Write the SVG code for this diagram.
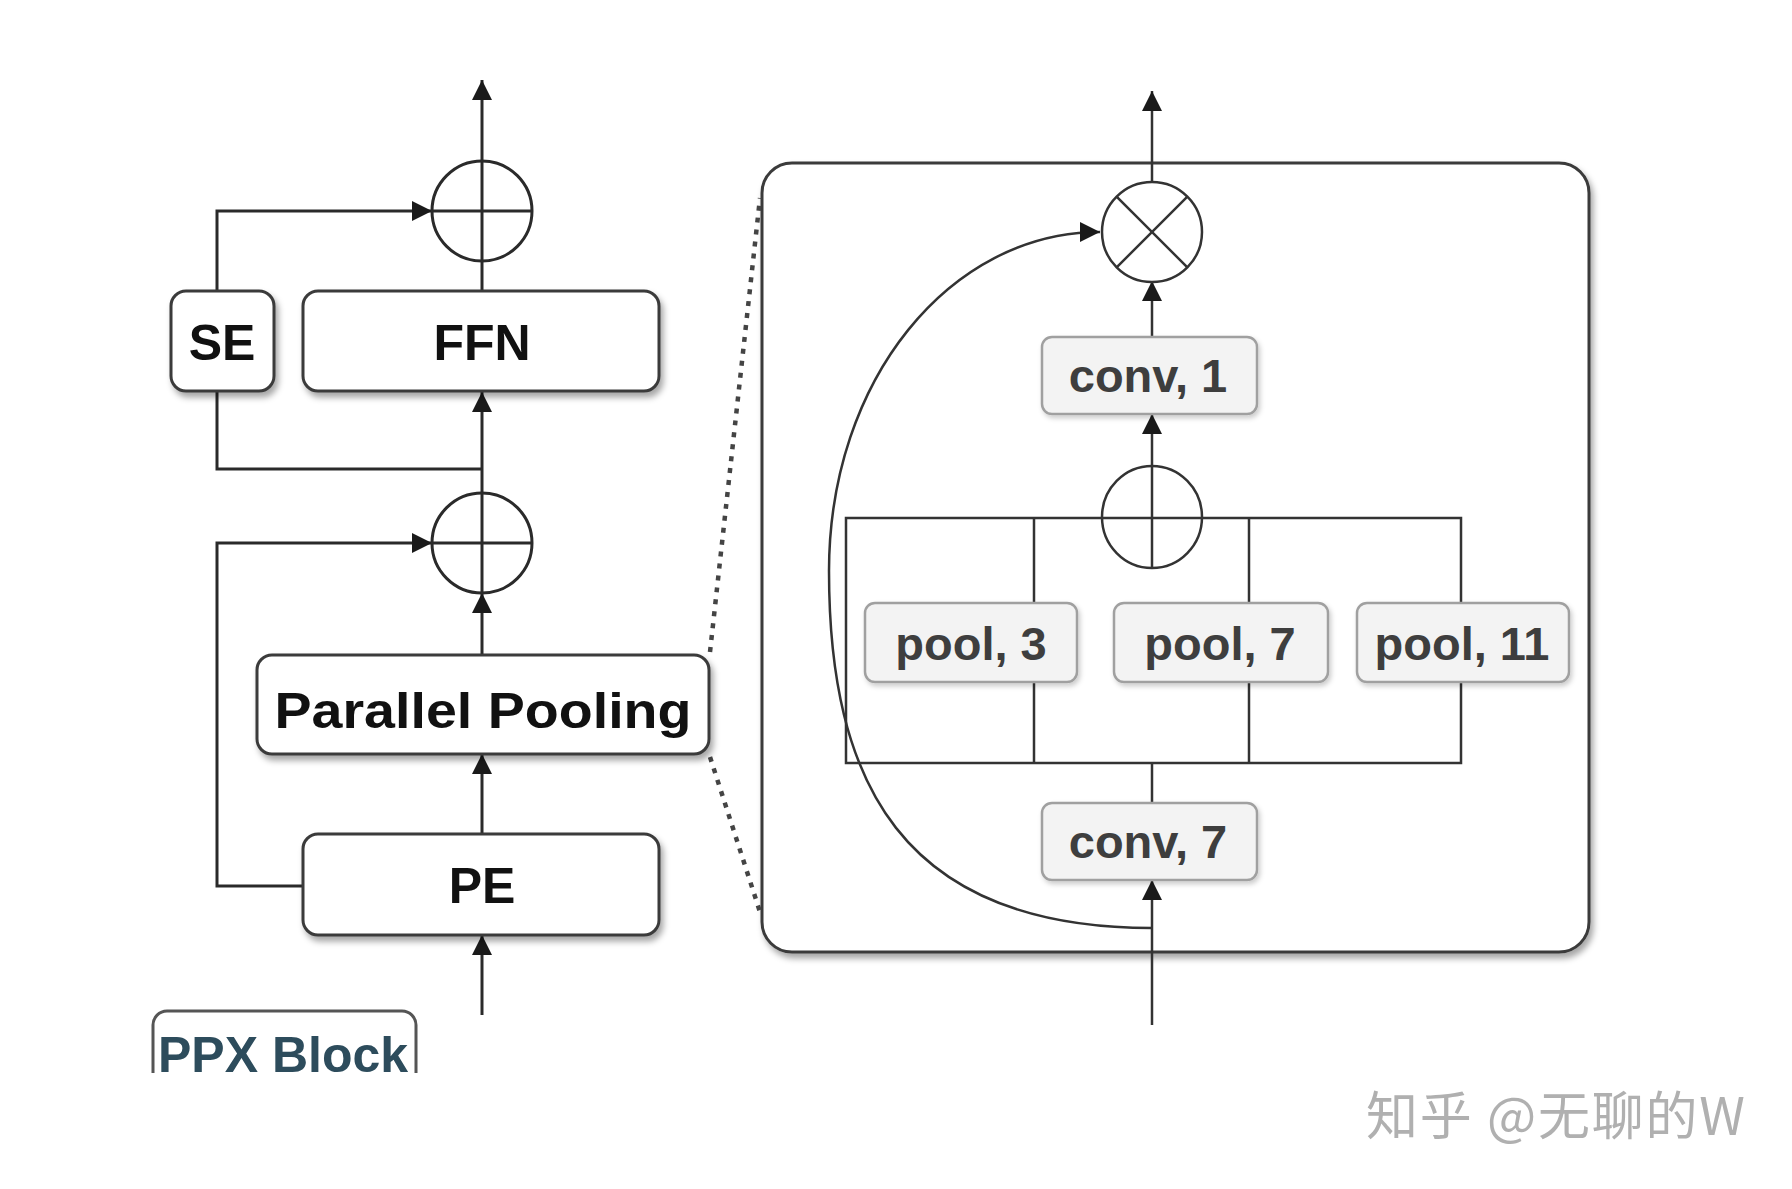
<svg xmlns="http://www.w3.org/2000/svg" width="1792" height="1189" viewBox="0 0 1792 1189">
  <defs>
    <marker id="arr" viewBox="0 0 10 10" refX="10" refY="5" markerWidth="27" markerHeight="20" markerUnits="userSpaceOnUse" orient="auto">
      <path d="M0,0 L10,5 L0,10 z" fill="#1a1a1a"/>
    </marker>
    <filter id="sh" x="-10%" y="-10%" width="130%" height="140%">
      <feDropShadow dx="3" dy="5" stdDeviation="3" flood-color="#000" flood-opacity="0.35"/>
    </filter>
    <filter id="shl" x="-10%" y="-10%" width="130%" height="140%">
      <feDropShadow dx="2" dy="3" stdDeviation="2.5" flood-color="#000" flood-opacity="0.2"/>
    </filter>
    <clipPath id="cut"><rect x="0" y="0" width="1792" height="1073"/></clipPath>
    <style>
      .box { fill: #ffffff; stroke: #3a3a3a; stroke-width: 3; }
      .gbox { fill: #f3f3f3; stroke: #a0a0a0; stroke-width: 2.5; }
      .ln { fill: none; stroke: #2a2a2a; stroke-width: 3; }
      .thin { fill: none; stroke: #333333; stroke-width: 2.5; }
      .dot { fill: none; stroke: #444444; stroke-width: 4.5; stroke-dasharray: 5 7; }
      .t { font-family: "Liberation Sans", Arial, sans-serif; font-weight: bold; text-anchor: middle; fill: #111111; font-size: 50px; }
      .g { font-family: "Liberation Sans", Arial, sans-serif; font-weight: bold; text-anchor: middle; fill: #3e3e3e; font-size: 47px; }
    </style>
  </defs>
  <rect width="1792" height="1189" fill="#ffffff"/>

  <!-- big panel -->
  <g id="panel">
    <rect x="762" y="163" width="827" height="789" rx="30" class="box" filter="url(#sh)"/>
  </g>

  <g id="connectors">
    <!-- left column -->
    <line x1="482" y1="261" x2="482" y2="80" class="ln" marker-end="url(#arr)"/>
    <line x1="482" y1="291" x2="482" y2="261" class="ln"/>
    <polyline points="217,291 217,211 432,211" class="ln" marker-end="url(#arr)"/>
    <polyline points="217,391 217,469 482,469" class="ln"/>
    <line x1="482" y1="493" x2="482" y2="392" class="ln" marker-end="url(#arr)"/>
    <line x1="482" y1="655" x2="482" y2="593" class="ln" marker-end="url(#arr)"/>
    <line x1="482" y1="834" x2="482" y2="754" class="ln" marker-end="url(#arr)"/>
    <line x1="482" y1="1015" x2="482" y2="935" class="ln" marker-end="url(#arr)"/>
    <polyline points="303,886 217,886 217,543 432,543" class="ln" marker-end="url(#arr)"/>
    <!-- dotted zoom lines -->
    <line x1="710" y1="652" x2="760" y2="198" class="dot"/>
    <line x1="710" y1="757" x2="760" y2="912" class="dot"/>
    <!-- right panel -->
    <line x1="1152" y1="183" x2="1152" y2="91" class="thin" marker-end="url(#arr)"/>
    <line x1="1152" y1="337" x2="1152" y2="281" class="thin" marker-end="url(#arr)"/>
    <line x1="1152" y1="467" x2="1152" y2="414" class="thin" marker-end="url(#arr)"/>
    <rect x="846" y="518" width="615" height="245" class="thin"/>
    <line x1="1034" y1="518" x2="1034" y2="763" class="thin"/>
    <line x1="1249" y1="518" x2="1249" y2="763" class="thin"/>
    <line x1="1152" y1="763" x2="1152" y2="803" class="thin"/>
    <line x1="1152" y1="1025" x2="1152" y2="880" class="thin" marker-end="url(#arr)"/>
    <path d="M1152,928 C900,928 829,780 829,571 C829,380 950,232 1100,232" class="thin" marker-end="url(#arr)"/>
  </g>

  <!-- left column nodes -->
  <g id="add-top">
    <circle cx="482" cy="211" r="50" class="ln"/>
    <line x1="432" y1="211" x2="532" y2="211" class="ln"/>
  </g>
  <g id="add-mid">
    <circle cx="482" cy="543" r="50" class="ln"/>
    <line x1="432" y1="543" x2="532" y2="543" class="ln"/>
    <line x1="482" y1="493" x2="482" y2="593" class="ln"/>
  </g>
  <g id="se">
    <rect x="171" y="291" width="103" height="100" rx="15" class="box" filter="url(#sh)"/>
    <text x="222" y="360" class="t">SE</text>
  </g>
  <g id="ffn">
    <rect x="303" y="291" width="356" height="100" rx="15" class="box" filter="url(#sh)"/>
    <text x="482" y="360" class="t">FFN</text>
  </g>
  <g id="parallel-pooling">
    <rect x="257" y="655" width="452" height="99" rx="15" class="box" filter="url(#sh)"/>
    <text x="483" y="728" class="t" font-size="52" textLength="417" lengthAdjust="spacingAndGlyphs">Parallel Pooling</text>
  </g>
  <g id="pe">
    <rect x="303" y="834" width="356" height="101" rx="15" class="box" filter="url(#sh)"/>
    <text x="482" y="903" class="t">PE</text>
  </g>
  <g id="ppx-block" clip-path="url(#cut)">
    <rect x="153" y="1011" width="263" height="90" rx="14" fill="#ffffff" stroke="#555555" stroke-width="3"/>
    <text x="283" y="1072" class="t" font-size="49" style="fill:#2d4c5c">PPX Block</text>
  </g>

  <!-- right panel nodes -->
  <g id="mul">
    <circle cx="1152" cy="232" r="50" fill="#ffffff" class="thin"/>
    <line x1="1116.6" y1="196.6" x2="1187.4" y2="267.4" class="thin"/>
    <line x1="1187.4" y1="196.6" x2="1116.6" y2="267.4" class="thin"/>
  </g>
  <g id="conv1">
    <rect x="1042" y="337" width="215" height="77" rx="10" class="gbox" filter="url(#shl)"/>
    <text x="1148" y="392" class="g">conv, 1</text>
  </g>
  <g id="add-pool">
    <ellipse cx="1152" cy="517" rx="50" ry="51" class="thin"/>
    <line x1="1152" y1="466" x2="1152" y2="568" class="thin"/>
  </g>
  <g id="pool3">
    <rect x="865" y="603" width="212" height="79" rx="10" class="gbox" filter="url(#shl)"/>
    <text x="971" y="660" class="g">pool, 3</text>
  </g>
  <g id="pool7">
    <rect x="1114" y="603" width="214" height="79" rx="10" class="gbox" filter="url(#shl)"/>
    <text x="1220" y="660" class="g">pool, 7</text>
  </g>
  <g id="pool11">
    <rect x="1357" y="603" width="212" height="79" rx="10" class="gbox" filter="url(#shl)"/>
    <text x="1462" y="660" class="g">pool, 11</text>
  </g>
  <g id="conv7">
    <rect x="1042" y="803" width="215" height="77" rx="10" class="gbox" filter="url(#shl)"/>
    <text x="1148" y="858" class="g">conv, 7</text>
  </g>

  <text x="1366" y="1135" font-family="'Noto Sans CJK SC', 'Noto Sans', sans-serif" font-size="52" fill="#b0b0b0" textLength="379" lengthAdjust="spacing">知乎 @无聊的W</text>
</svg>
